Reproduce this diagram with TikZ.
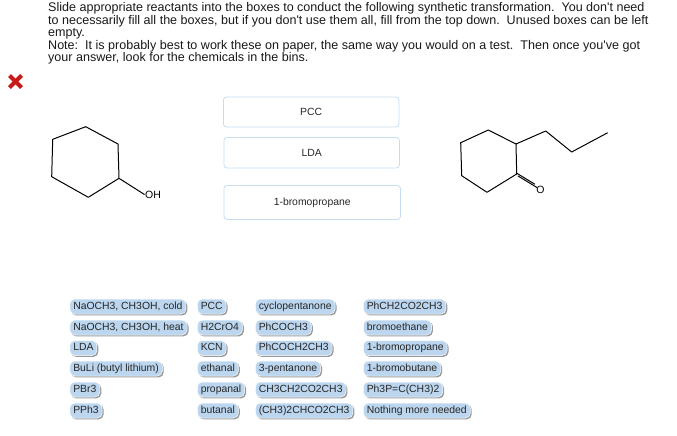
\documentclass[tikz,border=0pt]{standalone}
\usepackage{fontspec}
\setmainfont{Liberation Sans}
\usetikzlibrary{shadows}
\definecolor{chipblue}{HTML}{BBD6EE}
\definecolor{boxblue}{HTML}{C6DDF2}
\definecolor{crossred}{HTML}{C81818}
\tikzstyle{chip} = [rounded corners = 5pt, fill = chipblue, anchor = west, inner xsep = 3.5pt, inner ysep = 0pt, minimum height = 15pt, text height = 7.5pt, text depth = 2pt, font = \fontsize{10.4}{12}\selectfont, text = black!85, draw = white, line width = 0.5pt, drop shadow = {shadow xshift = 1.4pt, shadow yshift = -1.4pt, fill = black!40, opacity = 1}]
\tikzstyle{slot} = [draw = boxblue, line width = 0.8pt, rounded corners = 3pt, font = \fontsize{10.4}{12}\selectfont, text = black!85]
\tikzstyle{line} = [draw, line width = 1pt, line join = round]
\tikzstyle{atom} = [inner sep = 0.5pt, font = \fontsize{10.5}{12}\selectfont]
\tikzstyle{prompt} = [anchor = west, inner sep = 0pt, text height = 9pt, text depth = 2.6pt, font = \fontsize{12.55}{12}\selectfont, text = black!90]
\begin{document}
\begin{tikzpicture}[x = 1pt, y = -1pt]
	\useasboundingbox (0, 0) rectangle (677, 436);

	% prompt
	\node [prompt] (p1) at (48, 8.5) {Slide appropriate reactants into the boxes to conduct the following synthetic transformation.\ \ You don\textquotesingle t need};
	\node [prompt] (p2) at (48, 21) {to necessarily fill all the boxes, but if you don\textquotesingle t use them all, fill from the top down.\ \ Unused boxes can be left};
	\node [prompt] (p3) at (48, 33.5) {empty.};
	\node [prompt] (p4) at (48, 46) {Note:\ \ It is probably best to work these on paper, the same way you would on a test.\ \ Then once you\textquotesingle ve got};
	\node [prompt] (p5) at (48, 58.5) {your answer, look for the chemicals in the bins.};

	% red cross
	\draw [line width = 4.2pt, color = crossred] (9.5, 75.5) -- (21.5, 87.5);
	\draw [line width = 4.2pt, color = crossred] (21.5, 75.5) -- (9.5, 87.5);

	% boxes
	\node [slot, minimum width = 175.5pt, minimum height = 30pt] (box1) at (311.2, 112) {PCC};
	\node [slot, minimum width = 175.5pt, minimum height = 30.5pt] (box2) at (311.7, 152.7) {LDA};
	\node [slot, minimum width = 176.5pt, minimum height = 34pt] (box3) at (312.2, 202.5) {1-bromopropane};

	% cyclohexanol
	\coordinate (a1) at (85.7, 126.7);
	\coordinate (a2) at (118, 144);
	\coordinate (a3) at (119, 178.3);
	\coordinate (a4) at (88.3, 197.3);
	\coordinate (a5) at (51.7, 176.7);
	\coordinate (a6) at (52.7, 139.3);
	\node [atom, anchor = west] (oh) at (144.5, 194.5) {OH};
	\path [line] (a1) -- (a2) -- (a3) -- (a4) -- (a5) -- (a6) -- cycle;
	\path [line] (a3) -- (oh.west);

	% 2-propylcyclohexanone
	\coordinate (k1) at (488.3, 130);
	\coordinate (k2) at (516, 144);
	\coordinate (k3) at (516.7, 174);
	\coordinate (k4) at (487, 192.3);
	\coordinate (k5) at (461.7, 175.7);
	\coordinate (k6) at (460.7, 142.7);
	\coordinate (k7) at (545.7, 131);
	\coordinate (k8) at (571.7, 152);
	\coordinate (k9) at (607.7, 132.7);
	\node [atom] (ox) at (540.5, 190) {O};
	\path [line] (k1) -- (k2) -- (k3) -- (k4) -- (k5) -- (k6) -- cycle;
	\path [line] (k2) -- (k7) -- (k8) -- (k9);
	\path [line] ([xshift = 1.2pt, yshift = -1.9pt]k3) -- ([xshift = 1.2pt, yshift = -1.9pt]ox.north west);
	\path [line] ([xshift = -0.8pt, yshift = 1.3pt]k3) -- ([xshift = -0.8pt, yshift = 1.3pt]ox.north west);

	% first bin
	\node [chip] (naoc) at (69.5, 306.5) {NaOCH3, CH3OH, cold};
	\node [chip] (naoh) at (69.5, 327.5) {NaOCH3, CH3OH, heat};
	\node [chip] (lda) at (69.5, 348) {LDA};
	\node [chip] (buli) at (69.5, 368.5) {BuLi (butyl lithium)};
	\node [chip] (pbr) at (69.5, 389.5) {PBr3};
	\node [chip] (pph) at (69.5, 410.5) {PPh3};

	% second bin
	\node [chip] (pcc) at (197, 306.5) {PCC};
	\node [chip] (chrom) at (197, 327.5) {H2CrO4};
	\node [chip] (kcn) at (197, 348) {KCN};
	\node [chip] (ethanal) at (197, 368.5) {ethanal};
	\node [chip] (propanal) at (197, 389.5) {propanal};
	\node [chip] (butanal) at (197, 410.5) {butanal};

	% third bin
	\node [chip] (cyclo) at (255, 306.5) {cyclopentanone};
	\node [chip] (acet) at (255, 327.5) {PhCOCH3};
	\node [chip] (prop) at (255, 348) {PhCOCH2CH3};
	\node [chip] (pent) at (255, 368.5) {3-pentanone};
	\node [chip] (ester) at (255, 389.5) {CH3CH2CO2CH3};
	\node [chip] (iso) at (255, 410.5) {(CH3)2CHCO2CH3};

	% fourth bin
	\node [chip] (phest) at (363, 306.5) {PhCH2CO2CH3};
	\node [chip] (brome) at (363, 327.5) {bromoethane};
	\node [chip] (brpr) at (363, 348) {1-bromopropane};
	\node [chip] (brbu) at (363, 368.5) {1-bromobutane};
	\node [chip] (wittig) at (363, 389.5) {Ph3P=C(CH3)2};
	\node [chip] (none) at (363, 410.5) {Nothing more needed};
\end{tikzpicture}
\end{document}
